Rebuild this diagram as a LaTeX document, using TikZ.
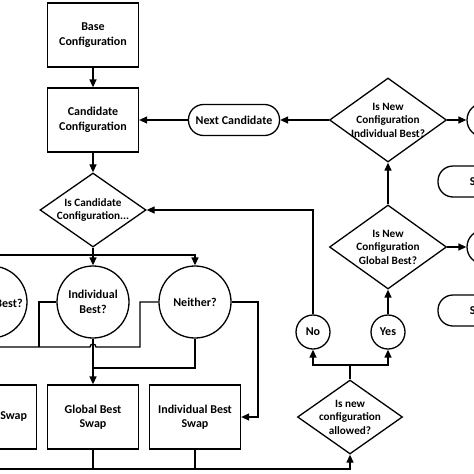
\documentclass[tikz,border=0pt]{standalone}
\usepackage{fontspec}
\setmainfont{Carlito}
\usetikzlibrary{arrows.meta,shapes.geometric}

\begin{document}
\begin{tikzpicture}[x=1pt, y=-1pt, line width=1.3pt,
	every node/.style={font=\fontsize{12}{14.5}\selectfont\bfseries, align=center, line width=1.3pt},
	box/.style={draw, rectangle, minimum width=91pt, minimum height=64pt, inner sep=0pt},
	decision/.style={draw, diamond, inner sep=0pt},
	dtext/.style={font=\fontsize{11.2}{13.5}\selectfont\bfseries},
	question/.style={draw, circle, minimum size=72pt, inner sep=0pt},
	answer/.style={draw, circle, minimum size=34pt, inner sep=0pt},
	terminal/.style={draw, rectangle, rounded corners=15pt, minimum width=91pt, minimum height=31pt},
	flow/.style={-{Triangle[length=8pt,width=7pt]}}]
			%%%%% START %%%%%
			
			\useasboundingbox (0,0) rectangle (474,474);
			\clip (0,0) rectangle (474,474);
			
			\node[box] (base) at (93,35) {Base\\Configuration};
			\node[box] (cand) at (93,120) {Candidate\\Configuration};
			\node[decision, minimum width=106pt, minimum height=74pt] (candQ) at (93,210) {};
			\node[dtext] (candQText) at (candQ) {Is Candidate\\Configuration...};
			
			\node[question] (globalQ) at (-9,302) {};
			\node (globalQText) at (9,303) {Best?};
			\node[question] (indivQ) at (93,302) {Individual\\Best?};
			\node[question] (neitherQ) at (195,302) {Neither?};
			
			\node[box, text width=72pt, align=right] (noSwap) at (-9,417) {Swap};
			\node[box] (globalSwap) at (93,417) {Global Best\\Swap};
			\node[box] (indivSwap) at (195,417) {Individual Best\\Swap};
			
			\node[decision, minimum width=105pt, minimum height=74pt] (allowQ) at (350,417) {};
			\node[dtext] (allowQText) at (allowQ) {Is new\\configuration\\allowed?};
			\node[answer] (no) at (313,332) {No};
			\node[answer] (yes) at (388,332) {Yes};
			
			\node[decision, minimum width=117pt, minimum height=84pt] (globalNew) at (388,247) {};
			\node[dtext] (globalNewText) at (globalNew) {Is New\\Configuration\\Global Best?};
			\node[decision, minimum width=117pt, minimum height=84pt] (indivNew) at (388,120) {};
			\node[dtext] (indivNewText) at (indivNew) {Is New\\Configuration\\Individual Best?};
			
			\node[terminal] (next) at (234,120) {Next Candidate};
			\node[answer] (indivOut) at (484,120) {};
			\node[answer] (globalOut) at (484,247) {};
			\node[terminal, minimum width=100pt] (indivStop) at (488,181.5) {};
			\node[anchor=west] (indivStopText) at (466,181.5) {S};
			\node[terminal, minimum width=100pt] (globalStop) at (488,310.5) {};
			\node[anchor=west] (globalStopText) at (466,310.5) {S};
			
			\draw[flow] (base) -- (cand);
			\draw[flow] (cand) -- (candQ);
			\draw[flow] (next) -- (cand);
			\draw[flow] (indivNew) -- (next);
			\draw[flow] (indivNew) -- (indivOut);
			\draw[flow] (globalNew) -- (globalOut);
			\draw[flow] (globalNew) -- (indivNew);
			\draw[flow] (yes) -- (globalNew);
			\draw[flow] (no.north) |- (candQ.east);
			
			\coordinate (split) at (350,365);
			\draw (allowQ.north) -- (split);
			\draw[flow] (split) -| (no.south);
			\draw[flow] (split) -| (yes.south);
			
			\coordinate (fork) at (93,255);
			\draw (candQ.south) -- (fork);
			\draw[flow] (fork) -- (indivQ.north);
			\draw[flow] (fork) -| (neitherQ.north);
			\draw[flow] (fork) -| (globalQ.north);
			
			\draw (globalQ.south) |- (90,347) arc (180:360:3) -- (140,347) |- (neitherQ.west);
			\draw (indivQ.west) -| (39,347);
			\draw[flow] (indivQ.south) -- (globalSwap.north);
			\draw (neitherQ.south) |- (93,368);
			\draw[flow] (neitherQ.east) -| (258,380) |- (indivSwap.east);
			
			\coordinate (bus) at (350,469);
			\draw[flow] (noSwap.south) |- (bus) -- (allowQ.south);
			\draw (globalSwap.south) -- (globalSwap.south |- bus);
			\draw (indivSwap.south) -- (indivSwap.south |- bus);
			
			%%%%% END %%%%%
		\end{tikzpicture}
\end{document}
